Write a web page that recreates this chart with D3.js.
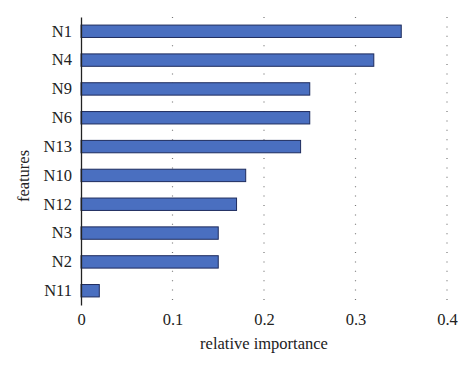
<!DOCTYPE html>
<html><head><meta charset="utf-8">
<script src="https://cdn.jsdelivr.net/npm/d3@7"></script>
<style>body{margin:0;background:#fff;} svg text{font-family:'Liberation Serif','DejaVu Serif','Times New Roman',serif !important;}</style>
</head><body>
<svg id="c" width="474" height="369"></svg>
<script>
const features = ["N1","N4","N9","N6","N13","N10","N12","N3","N2","N11"];
const importance = [0.35,0.32,0.25,0.25,0.24,0.18,0.17,0.15,0.15,0.02];
const xTicks = [0,0.1,0.2,0.3,0.4];
const xTickLabels = ["0","0.1","0.2","0.3","0.4"];

const svg = d3.select("#c");
const x = d3.scaleLinear().domain([0,0.4]).range([81,447]);
const y = d3.scaleBand().domain(features).range([17,305]).paddingInner(0.57).paddingOuter(0.28);

svg.append("g").selectAll("line").data(xTicks.slice(1)).join("line")
  .attr("x1",d=>x(d)).attr("x2",d=>x(d)).attr("y1",17).attr("y2",302)
  .attr("stroke","#777").attr("stroke-width",1.2).attr("stroke-dasharray","1,8.4");

svg.append("g").selectAll("rect").data(features).join("rect")
  .attr("x",x(0)).attr("y",d=>y(d))
  .attr("width",(d,i)=>x(importance[i])-x(0)).attr("height",y.bandwidth())
  .attr("fill","#4a6fc0").attr("stroke","#1e2c5e").attr("stroke-width",1);

const ya = d3.axisLeft(y).tickSize(0).tickPadding(9);
const gy = svg.append("g").attr("transform",`translate(${x(0)},0)`).call(ya);
gy.attr("font-family",null);
gy.select(".domain").attr("stroke","#222").attr("stroke-width",1.3);
gy.selectAll("text").attr("font-size",16.5).attr("fill","#222");

const xa = d3.axisBottom(x).tickValues(xTicks).tickFormat((d,i)=>xTickLabels[i]).tickSize(0).tickPadding(8);
const gx = svg.append("g").attr("transform","translate(0,305)").call(xa);
gx.attr("font-family",null);
gx.select(".domain").remove();
gx.selectAll("text").attr("font-size",16.5).attr("fill","#222");

svg.append("text").attr("x",264).attr("y",349).attr("text-anchor","middle")
  .attr("font-size",16.5).attr("fill","#222").text("relative importance");
svg.append("text").attr("transform","translate(29,176) rotate(-90)").attr("text-anchor","middle")
  .attr("font-size",16.5).attr("fill","#222").text("features");
</script>
</body></html>
